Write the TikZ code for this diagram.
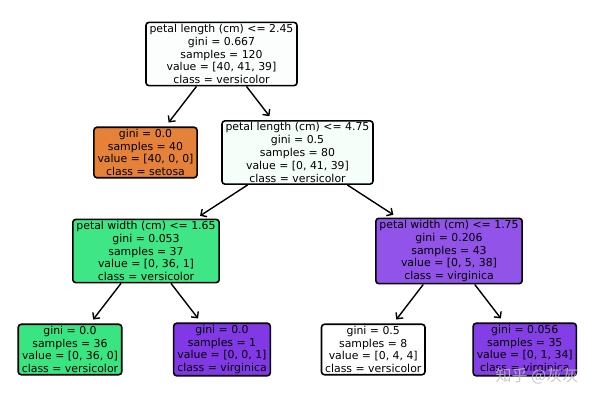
\documentclass[tikz,border=0pt]{standalone}
\usepackage{fontspec}
\setmainfont{DejaVu Sans}
\newfontfamily\cjk{Noto Sans CJK SC}
\usetikzlibrary{trees}
\usetikzlibrary{arrows.meta}

\definecolor{setosa}{HTML}{E58139}
\definecolor{versicolor}{HTML}{39E581}
\definecolor{virginica}{HTML}{8139E5}
\definecolor{mixroot}{HTML}{FCFEFD}
\definecolor{mixlen}{HTML}{F5FEF9}
\definecolor{mixwidthA}{HTML}{3FE685}
\definecolor{mixwidthB}{HTML}{9253E8}
\definecolor{mixleaf}{HTML}{843EE6}

\begin{document}
\begin{tikzpicture}
[x=1pt,y=-1pt,%
  every node/.style={shape=rectangle,rounded corners=3pt,draw,line width=1.6pt,
    align=center,inner xsep=3.6pt,inner ysep=1.8pt,
    font=\fontsize{10.9}{12.8}\selectfont},%
  edge from parent/.style={draw,line width=1.4pt,
    -{Straight Barb[length=4.5pt,width=9pt]},shorten >=5pt},%
  level distance=98.5pt]
\useasboundingbox (0,0) rectangle (600,400);
\node[fill=mixroot] (n0) at (221.5,54)
  {petal length (cm) <= 2.45\\gini = 0.667\\samples = 120\\value = [40, 41, 39]\\class = versicolor}
  [sibling distance=152pt]
  child {node[fill=setosa] (n1)
    {gini = 0.0\\samples = 40\\value = [40, 0, 0]\\class = setosa}}
  child {node[fill=mixlen] (n2)
    {petal length (cm) <= 4.75\\gini = 0.5\\samples = 80\\value = [0, 41, 39]\\class = versicolor}
    [sibling distance=303pt]
    child {node[fill=mixwidthA] (n3)
      {petal width (cm) <= 1.65\\gini = 0.053\\samples = 37\\value = [0, 36, 1]\\class = versicolor}
      [sibling distance=152pt]
      child {node[fill=versicolor] (n4)
        {gini = 0.0\\samples = 36\\value = [0, 36, 0]\\class = versicolor}}
      child {node[fill=virginica] (n5)
        {gini = 0.0\\samples = 1\\value = [0, 0, 1]\\class = virginica}}
    }
    child {node[fill=mixwidthB] (n6)
      {petal width (cm) <= 1.75\\gini = 0.206\\samples = 43\\value = [0, 5, 38]\\class = virginica}
      [sibling distance=151.5pt]
      child {node[fill=white] (n7)
        {gini = 0.5\\samples = 8\\value = [0, 4, 4]\\class = versicolor}}
      child {node[fill=mixleaf] (n8)
        {gini = 0.056\\samples = 35\\value = [0, 1, 34]\\class = virginica}}
    }
  };
% watermark
\node[draw=none,text=black!25,opacity=0.85,font=\cjk\fontsize{16}{16}\selectfont]
  (mark) at (537,376) {知乎 @灰灰};
\end{tikzpicture}
\end{document}
